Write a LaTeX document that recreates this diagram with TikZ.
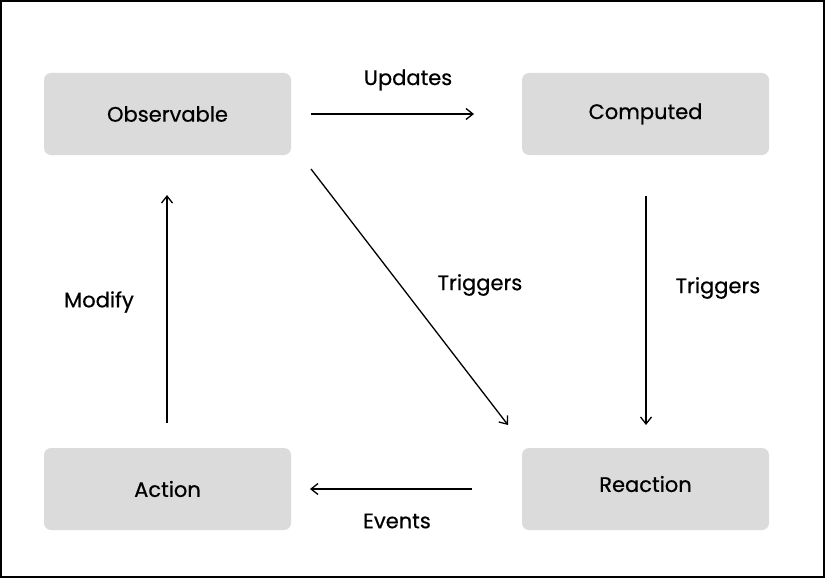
\documentclass[tikz,border=0pt]{standalone}
\usepackage{fontspec}
\setmainfont{Poppins}[FakeBold=0.6]
\usetikzlibrary{arrows.meta}
\begin{document}
\begin{tikzpicture}[x=1pt,y=-1pt,
  box/.style={fill=black!14,rounded corners=7pt,minimum width=247pt,minimum height=82pt,inner sep=0pt,font=\fontsize{21}{24}\selectfont},
  lab/.style={font=\fontsize{21}{24}\selectfont},
  arr/.style={-{Straight Barb[length=7pt,width=11pt]},line width=1.3pt}]
\draw[line width=2pt,fill=white] (1,1) rectangle (824,577);
\useasboundingbox (0,0) rectangle (825,578);
\node[box] (obs) at (167.5,114) {Observable};
\node[box] (comp) at (645.5,114) {Computed};
\node[box] (act) at (167.5,489) {Action};
\node[box] (reac) at (645.5,489) {};
\node[lab] (reactxt) at (645.5,484) {Reaction};
\coordinate (a1) at (311,114); \coordinate (a2) at (474,114);
\coordinate (b1) at (311,169); \coordinate (b2) at (508,425);
\coordinate (c1) at (646,196); \coordinate (c2) at (646,425);
\coordinate (d1) at (472,489); \coordinate (d2) at (310,489);
\coordinate (e1) at (167,423); \coordinate (e2) at (167,195);
\draw[arr] (a1) -- (a2);
\draw[arr] (b1) -- (b2);
\draw[arr] (c1) -- (c2);
\draw[arr] (d1) -- (d2);
\draw[arr] (e1) -- (e2);
\node[lab] (l1) at (408,80) {Updates};
\node[lab] (l2) at (480,285) {Triggers};
\node[lab] (l3) at (718,288) {Triggers};
\node[lab] (l4) at (397,521) {Events};
\node[lab] (l5) at (99,302) {Modify};
\end{tikzpicture}
\end{document}
